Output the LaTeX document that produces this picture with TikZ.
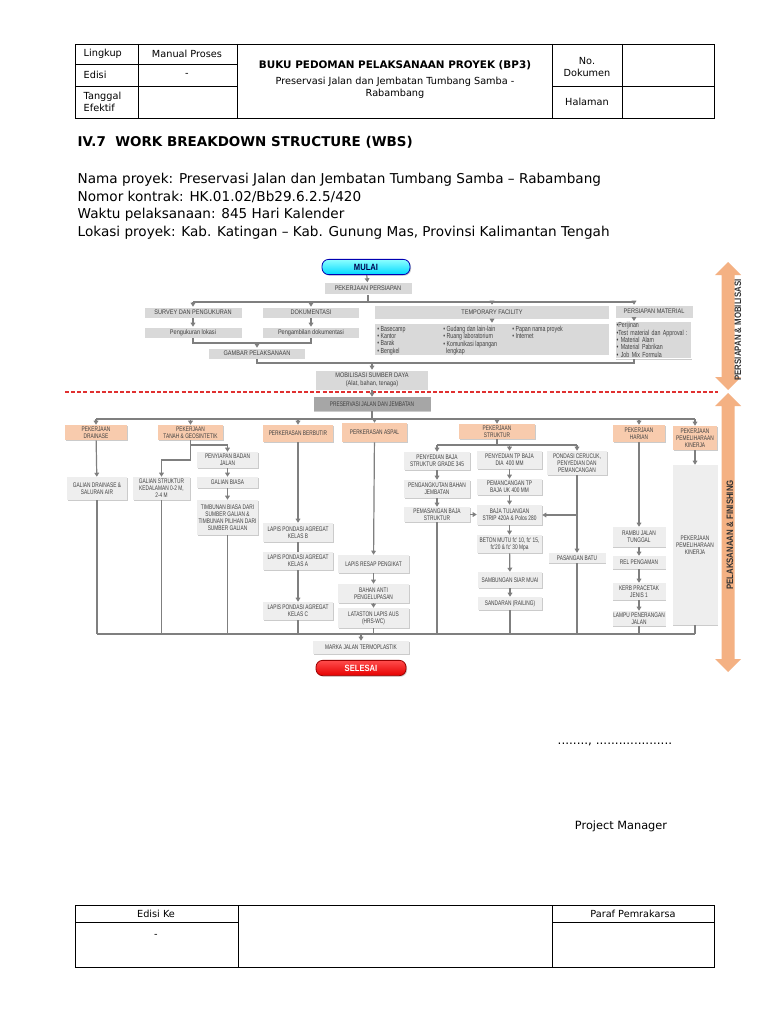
\documentclass[tikz,border=0pt]{standalone}
\usepackage{fontspec}
\setmainfont{DejaVu Sans}
\newfontfamily\wbstop[FakeStretch=0.84]{Liberation Sans}
\newfontfamily\wbslow[FakeStretch=0.72]{Liberation Sans}
\usetikzlibrary{arrows.meta,shadows}
\definecolor{boxgray}{HTML}{D9D9D9}
\definecolor{lightbox}{HTML}{EEEEEE}
\definecolor{peach}{HTML}{F8CBAD}
\definecolor{darkbox}{HTML}{A6A6A6}
\definecolor{linegray}{HTML}{7F7F7F}
\definecolor{txtgray}{HTML}{404040}
\definecolor{arroworange}{HTML}{F4B183}
\definecolor{dashred}{HTML}{E03030}

\begin{document}
\begin{tikzpicture}[x=0.75pt,y=-0.75pt,
  wh/.style 2 args={minimum width=#1*0.75pt,minimum height=#2*0.75pt},
  wbs/.style={inner sep=0.5pt,align=center,text=txtgray,
    drop shadow={shadow xshift=0.7pt,shadow yshift=-0.7pt,fill=black!40,opacity=0.5}},
  topf/.style={font=\wbstop\fontsize{5}{5.6}\selectfont},
  lowf/.style={font=\wbslow\fontsize{5}{5.3}\selectfont},
  listf/.style={font=\wbslow\fontsize{5.5}{5.5}\selectfont},
  gbox/.style={wbs,topf,fill=boxgray,draw=white,line width=0.4pt},
  lbox/.style={wbs,lowf,fill=lightbox},
  obox/.style={wbs,lowf,fill=peach},
  pill/.style={rounded corners=5pt,draw,line width=0.6pt,
    font=\wbstop\bfseries\fontsize{6.8}{7}\selectfont,
    drop shadow={shadow xshift=0.8pt,shadow yshift=-0.8pt,fill=black!40,opacity=0.5}},
  ln/.style={draw=linegray,line width=0.9pt},
  arr/.style={ln,-{Triangle[length=3pt,width=3.5pt]}},
  cell/.style={font=\fontsize{7.3}{8.6}\selectfont},
  info/.style={anchor=base west,font=\fontsize{10.2}{12}\selectfont}
]
\fill[white] (0,0) rectangle (768,1024);
\useasboundingbox (0,0) rectangle (768,1024);

% kop dokumen
\draw[line width=0.6pt] (75,44) rectangle (714,118);
\draw[line width=0.6pt] (138,44)--(138,118) (237,44)--(237,118) (552,44)--(552,118) (622,44)--(622,118)
  (75,64)--(237,64) (75,86)--(237,86) (552,86)--(714,86);
\node[cell,anchor=west] (lingkup) at (79,54) {Lingkup};
\node[cell,anchor=west] (edisi) at (79,75) {Edisi};
\node[cell,anchor=west,align=left] (tanggal) at (79,102) {Tanggal\\Efektif};
\node[cell] (manual) at (187,54) {Manual Proses};
\node[cell] (edisival) at (187,75) {-};
\node[cell,font=\bfseries\fontsize{7.8}{9}\selectfont] (judul) at (395,65) {BUKU PEDOMAN PELAKSANAAN PROYEK (BP3)};
\node[cell,align=center] (subjudul) at (395,88) {Preservasi Jalan dan Jembatan Tumbang Samba -\\Rabambang};
\node[cell,align=center] (nodok) at (587,67) {No.\\Dokumen};
\node[cell] (halaman) at (587,102) {Halaman};

% judul bab dan data proyek
\node[anchor=base west,font=\bfseries\fontsize{10.1}{12}\selectfont] (bab) at (73,146) {IV.7\ \ WORK BREAKDOWN STRUCTURE (WBS)};
\node[info] (nama) at (73,183.5) {Nama proyek: Preservasi Jalan dan Jembatan Tumbang Samba -- Rabambang};
\node[info] (kontrak) at (73,201) {Nomor kontrak: HK.01.02/Bb29.6.2.5/420};
\node[info] (waktu) at (73,218.5) {Waktu pelaksanaan: 845 Hari Kalender};
\node[info] (lokasi) at (73,236) {Lokasi proyek: Kab. Katingan -- Kab. Gunung Mas, Provinsi Kalimantan Tengah};

% panah tahap di kanan
\fill[arroworange] (728,262)--(741,275)--(734.5,275)--(734.5,377)--(741,377)--(728,390)--(715,377)--(721.5,377)--(721.5,275)--(715,275)--cycle;
\fill[arroworange] (728,393)--(741,406)--(734.5,406)--(734.5,659)--(741,659)--(728,672)--(715,659)--(721.5,659)--(721.5,406)--(715,406)--cycle;
\node[rotate=90,font=\wbstop\bfseries\fontsize{7}{7}\selectfont,text=black!80] (tahap1) at (738,330) {PERSIAPAN \& MOBILISASI};
\node[rotate=90,font=\wbstop\bfseries\fontsize{7}{7}\selectfont,text=black!80] (tahap2) at (730,535) {PELAKSANAAN \& FINISHING};
\draw[dashred,line width=1.1pt,dash pattern=on 3pt off 1.6pt] (65,392)--(718,392);

% tahap persiapan
\node[pill,top color=cyan!45,bottom color=cyan!85!blue,draw=blue!70!black,text=blue!30!black,wh={88}{13}] (mulai) at (366,267) {MULAI};
\node[gbox,wh={88}{12}] (persiapan) at (368,288.5) {PEKERJAAN PERSIAPAN};
\node[gbox,wh={98}{11}] (survey) at (193,312.5) {SURVEY DAN PENGUKURAN};
\node[gbox,wh={98}{11}] (ukur) at (193,332.5) {Pengukuran lokasi};
\node[gbox,wh={97}{11}] (doku) at (311,312.5) {DOKUMENTASI};
\node[gbox,wh={97}{11}] (ambil) at (311,332.5) {Pengambilan dokumentasi};
\node[gbox,wh={235}{14}] (tf) at (492,312) {TEMPORARY FACILITY};
\node[gbox,wh={235}{32}] (tflist) at (492,339) {};
\node[listf,text=txtgray,anchor=north west,align=left,inner sep=0pt] (tfa) at (377,326) {• Basecamp\\• Kantor\\• Barak\\• Bengkel};
\node[listf,text=txtgray,anchor=north west,align=left,inner sep=0pt] (tfb) at (443,326) {• Gudang dan lain-lain\\• Ruang laboratorium\\• Komunikasi lapangan\\\ \ lengkap};
\node[listf,text=txtgray,anchor=north west,align=left,inner sep=0pt] (tfc) at (512,326) {• Papan nama proyek\\• Internet};
\node[gbox,wh={78}{13}] (pmat) at (654,311.5) {PERSIAPAN MATERIAL};
\node[gbox,listf,wh={76}{36},align=left,text width=73*0.75pt,inner sep=1pt] (pmlist) at (653,340) {•Perijinan\\•Test material dan Approval :\\• Material Alam\\• Material Pabrikan\\• Job Mix Formula};
\node[gbox,wh={97}{11}] (gambar) at (257,353.5) {GAMBAR PELAKSANAAN};
\node[gbox,wh={113}{20}] (mobil) at (372,380) {MOBILISASI SUMBER DAYA\\(Alat, bahan, tenaga)};

% tahap pelaksanaan
\node[wbs,lowf,fill=darkbox,text=black!75,wh={117}{14}] (preserv) at (372,404) {PRESERVASI JALAN DAN JEMBATAN};
\node[obox,wh={62}{15}] (drain) at (96,432.5) {PEKERJAAN\\DRAINASE};
\node[obox,wh={65}{15}] (tanah) at (190.5,432.5) {PEKERJAAN\\TANAH \& GEOSINTETIK};
\node[obox,wh={70}{17}] (butir) at (298,433.5) {PERKERASAN BERBUTIR};
\node[obox,wh={65}{19}] (aspal) at (374.5,432.5) {PERKERASAN ASPAL};
\node[obox,wh={76}{15}] (struktur) at (497,431.5) {PEKERJAAN\\STRUKTUR};
\node[obox,wh={52}{17}] (harian) at (639,433.5) {PEKERJAAN\\HARIAN};
\node[obox,wh={44}{24}] (kinerja) at (695,438) {PEKERJAAN\\PEMELIHARAAN\\KINERJA};

\node[lbox,wh={60}{23}] (galdr) at (97,488.5) {GALIAN DRAINASE \&\\SALURAN AIR};
\node[lbox,wh={57}{23}] (galstr) at (161.5,488.5) {GALIAN STRUKTUR\\KEDALAMAN 0-2 M,\\2-4 M};
\node[lbox,wh={61}{16}] (badan) at (227.5,460) {PENYIAPAN BADAN\\JALAN};
\node[lbox,wh={61}{11}] (galbiasa) at (227.5,482.5) {GALIAN BIASA};
\node[lbox,wh={61}{35}] (timbun) at (227.5,517.5) {TIMBUNAN BIASA DARI\\SUMBER GALIAN \&\\TIMBUNAN PILIHAN DARI\\SUMBER GALIAN};
\node[lbox,wh={70}{19}] (lpab) at (298,532.5) {LAPIS PONDASI AGREGAT\\KELAS B};
\node[lbox,wh={70}{18}] (lpaa) at (298,561) {LAPIS PONDASI AGREGAT\\KELAS A};
\node[lbox,wh={70}{18}] (lpac) at (298,611) {LAPIS PONDASI AGREGAT\\KELAS C};
\node[lbox,wh={71}{18}] (resap) at (373.5,564) {LAPIS RESAP PENGIKAT};
\node[lbox,wh={71}{19}] (antikupas) at (373.5,593.5) {BAHAN ANTI\\PENGELUPASAN};
\node[lbox,wh={71}{20}] (lataston) at (373.5,618) {LATASTON LAPIS AUS\\(HRS-WC)};
\node[lbox,wh={66}{18}] (sedbaja) at (437,461) {PENYEDIAN BAJA\\STRUKTUR GRADE 345};
\node[lbox,wh={66}{18}] (angkut) at (437,489) {PENGANGKUTAN BAHAN\\JEMBATAN};
\node[lbox,wh={66}{15}] (pasbaja) at (437,514.5) {PEMASANGAN BAJA\\STRUKTUR};
\node[lbox,wh={65}{18}] (sedtp) at (509.5,460) {PENYEDIAN TP BAJA\\DIA\ \ 400 MM};
\node[lbox,wh={65}{16}] (pancang) at (509.5,487) {PEMANCANGAN TP\\BAJA UK 400 MM};
\node[lbox,wh={65}{20}] (tulangan) at (509.5,515) {BAJA TULANGAN\\STRIP 420A \& Polos 280};
\node[lbox,wh={65}{18}] (beton) at (509.5,544) {BETON MUTU fc' 10, fc' 15,\\fc'20 \& fc' 30 Mpa};
\node[lbox,wh={64}{16}] (siar) at (510,580) {SAMBUNGAN SIAR MUAI};
\node[lbox,wh={64}{13}] (railing) at (510,603.5) {SANDARAN (RAILING)};
\node[lbox,wh={60}{24}] (cerucuk) at (577,463) {PONDASI CERUCUK,\\PENYEDIAN DAN\\PEMANCANGAN};
\node[lbox,wh={57}{10}] (pasbatu) at (577,558) {PASANGAN BATU};
\node[lbox,wh={53}{20}] (rambu) at (639,537) {RAMBU JALAN\\TUNGGAL};
\node[lbox,wh={53}{13}] (rel) at (639,562.5) {REL PENGAMAN};
\node[lbox,wh={53}{17}] (kerb) at (639,591.5) {KERB PRACETAK\\JENIS 1};
\node[lbox,wh={53}{15}] (lampu) at (639,618.5) {LAMPU PENERANGAN\\JALAN};
\node[lbox,wh={45}{160}] (kinerjabox) at (695,545) {PEKERJAAN\\PEMELIHARAAN\\KINERJA};
\node[lbox,wh={96}{13}] (marka) at (361,647.5) {MARKA JALAN TERMOPLASTIK};
\node[pill,top color=red!70,bottom color=red!90!black,draw=red!60!black,text=white,wh={90}{14}] (selesai) at (361,668) {SELESAI};

% garis bantu
\coordinate (bus1) at (0,302);
\coordinate (bus2) at (0,343);
\coordinate (bus3) at (0,363);
\coordinate (bus4) at (0,419);
\coordinate (tanaha) at (0,445);
\coordinate (tanahb) at (0,460);
\coordinate (bus5) at (0,634);
\coordinate (pmin) at (634,0);

% penghubung persiapan
\draw[arr] (mulai)--(persiapan);
\draw[ln] (persiapan)--(persiapan |- bus1);
\draw[ln] (survey.north |- bus1)--(pmin |- bus1);
\foreach \n in {survey,doku,tf} \draw[arr] (\n.north |- bus1)--(\n.north);
\draw[arr] (pmin |- bus1)--(pmin |- pmat.north);
\draw[arr] (survey)--(ukur);
\draw[arr] (doku)--(ambil);
\draw[arr] (tf)--(tflist);
\draw[arr] (pmin |- pmat.south)--(pmin |- pmlist.north);
\draw[ln] (ukur.south)--(ukur.south |- bus2)--(ambil.south |- bus2)--(ambil.south);
\draw[arr] (gambar.north |- bus2)--(gambar.north);
\draw[ln] (gambar.south)--(gambar.south |- bus3)--(pmin |- bus3)--(pmin |- pmlist.south);
\draw[arr] (mobil.north |- bus3)--(mobil.north);
\draw[arr] (mobil)--(preserv);

% penghubung pelaksanaan
\draw[ln] (preserv)--(preserv |- bus4);
\draw[ln] (drain.north |- bus4)--(kinerja.north |- bus4);
\foreach \n in {drain,tanah,butir,aspal,struktur,harian,kinerja} \draw[arr] (\n.north |- bus4)--(\n.north);
\draw[arr] (drain)--(galdr);
\draw[arr] (tanah.south) |- (badan.north |- tanaha)--(badan.north);
\draw[arr] (tanah.south) |- (galstr.north |- tanahb)--(galstr.north);
\draw[arr] (badan)--(galbiasa);
\draw[arr] (galbiasa)--(timbun);
\draw[arr] (butir)--(lpab);
\draw[ln] (lpab)--(lpaa);
\draw[arr] (lpaa)--(lpac);
\draw[arr] (aspal)--(resap);
\draw[arr] (resap)--(antikupas);
\draw[arr] (antikupas)--(lataston);
\draw[ln] (struktur)--(struktur |- tanaha);
\draw[ln] (sedbaja.north |- tanaha)--(cerucuk.north |- tanaha);
\foreach \n in {sedbaja,sedtp,cerucuk} \draw[arr] (\n.north |- tanaha)--(\n.north);
\draw[arr] (sedbaja)--(angkut);
\draw[arr] (angkut)--(pasbaja);
\draw[arr] (pasbaja.east)--(pasbaja.east -| tulangan.west);
\draw[arr] (sedtp)--(pancang);
\draw[arr] (pancang)--(tulangan);
\draw[arr] (tulangan)--(beton);
\draw[arr] (beton)--(siar);
\draw[arr] (siar)--(railing);
\draw[arr] (cerucuk)--(pasbatu);
\draw[arr] (cerucuk.south |- tulangan.east)--(tulangan.east);
\draw[arr] (harian)--(rambu);
\draw[arr] (rambu)--(rel);
\draw[arr] (rel)--(kerb);
\draw[arr] (kerb)--(lampu);
\draw[arr] (kinerja)--(kinerjabox);
\draw[ln] (galdr.south |- bus5)--(kinerjabox.south |- bus5);
\foreach \n in {galdr,galstr,timbun,lpac,lataston,pasbaja,railing,pasbatu,lampu,kinerjabox} \draw[ln] (\n.south)--(\n.south |- bus5);
\draw[arr] (marka.north |- bus5)--(marka.north);

% pengesahan
\node[anchor=base west,font=\fontsize{9}{10}\selectfont] (titik) at (553,744) {........, ....................};
\node[font=\fontsize{8.5}{10}\selectfont] (pm) at (621,826) {Project Manager};
\draw[line width=0.6pt] (75,905) rectangle (714,967);
\draw[line width=0.6pt] (238,905)--(238,967) (552,905)--(552,967) (75,922)--(238,922) (552,922)--(714,922);
\node[cell] (edisike) at (156,913.5) {Edisi Ke};
\node[cell] (edisikeval) at (156,936) {-};
\node[cell] (paraf) at (633,913.5) {Paraf Pemrakarsa};
\end{tikzpicture}
\end{document}
